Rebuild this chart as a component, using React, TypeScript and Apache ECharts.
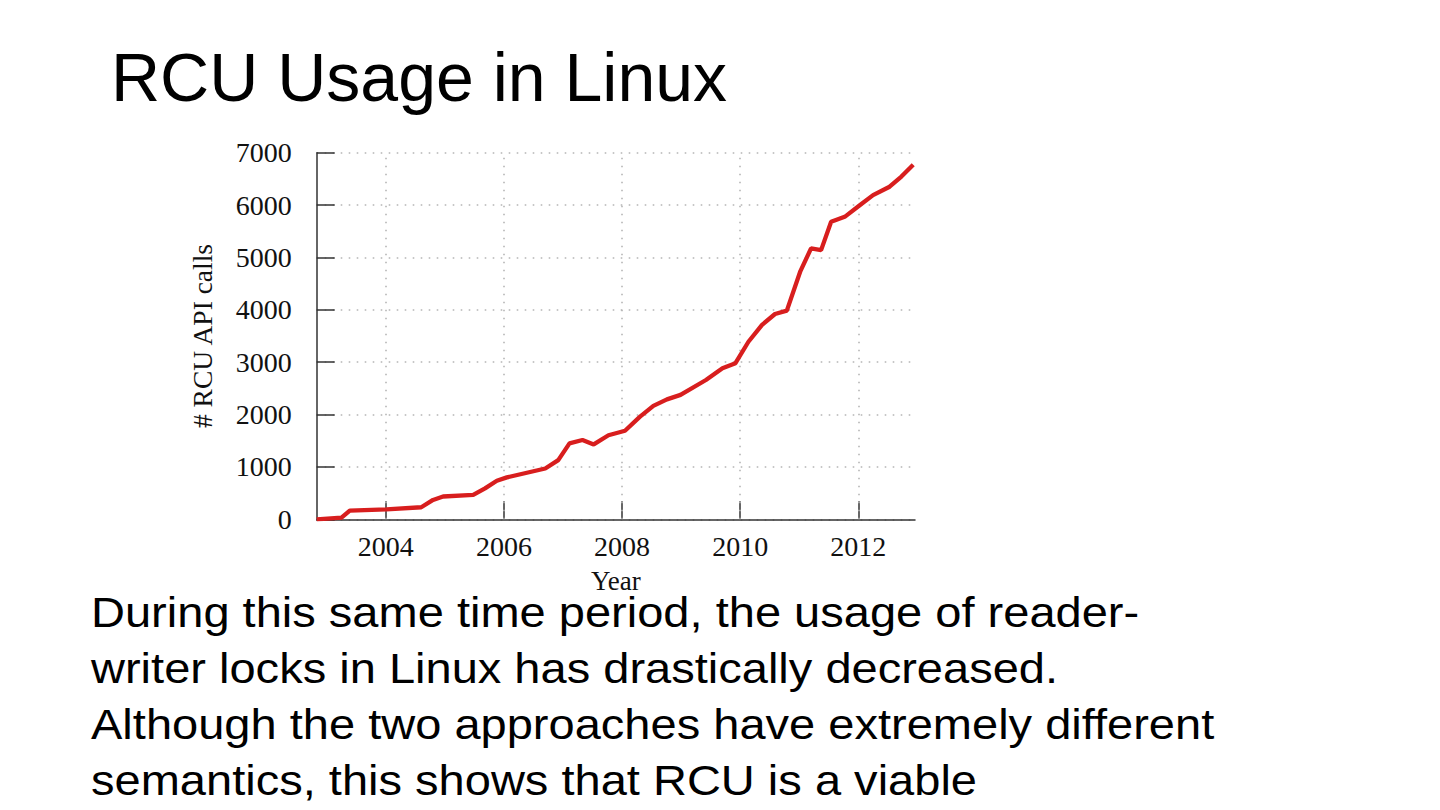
import React, { useEffect, useRef } from "react";
import * as echarts from "echarts";

const TITLE = "RCU Usage in Linux";
const BODY_LINES = [
  "During this same time period, the usage of reader-",
  "writer locks in Linux has drastically decreased.",
  "Although the two approaches have extremely different",
  "semantics, this shows that RCU is a viable",
];

const YEARS = [
  2002.83, 2003.25, 2003.39, 2004.01, 2004.6, 2004.8, 2004.97, 2005.48, 2005.68, 2005.88,
  2006.05, 2006.7, 2006.92, 2007.11, 2007.33, 2007.52, 2007.77, 2008.05, 2008.3, 2008.53,
  2008.76, 2008.99, 2009.42, 2009.7, 2009.92, 2010.14, 2010.37, 2010.59, 2010.79, 2011.02,
  2011.2, 2011.37, 2011.54, 2011.77, 2012.03, 2012.25, 2012.53, 2012.73, 2012.93,
];
const CALLS = [
  0, 30, 165, 190, 230, 370, 435, 465, 590, 735,
  800, 970, 1130, 1450, 1515, 1430, 1605, 1690, 1955, 2165,
  2290, 2375, 2660, 2885, 2980, 3390, 3712, 3920, 3985, 4740,
  5172, 5140, 5680, 5775, 6000, 6190, 6350, 6545, 6770,
];

const X_MIN = 2002.83;
const X_MAX = 2012.96;
const X_TICKS = [2004, 2006, 2008, 2010, 2012];
const Y_MIN = 0;
const Y_MAX = 7000;
const Y_STEP = 1000;

export default function App() {
  const ref = useRef<HTMLDivElement>(null);
  useEffect(() => {
    if (!ref.current) return;
    const chart = echarts.init(ref.current, null, { renderer: "svg" });
    const serif = "'Liberation Serif', 'Times New Roman', serif";
    const sans = "'Liberation Sans', Arial, sans-serif";
    const axisColor = "#333333";
    const gridColor = "#b5b5b5";
    const gridLine = { type: [1.6, 6.4], color: gridColor, width: 1.6 };
    chart.setOption({
      animation: false,
      backgroundColor: "#ffffff",
      grid: { left: 316.7, top: 152.7, width: 598.3, height: 366.6, containLabel: false },
      xAxis: {
        type: "value",
        min: X_MIN,
        max: X_MAX,
        axisLine: { show: true, lineStyle: { color: axisColor, width: 1.5 } },
        axisTick: {
          show: true,
          inside: true,
          length: 18,
          customValues: X_TICKS,
          lineStyle: { color: axisColor, width: 1.5 },
        },
        axisLabel: {
          customValues: X_TICKS,
          formatter: (v: number) => String(Math.round(v)),
          fontFamily: serif,
          fontSize: 28,
          color: "#111",
          margin: 13,
        },
        splitLine: { show: false },
        name: "Year",
        nameLocation: "middle",
        nameGap: 48,
        nameTextStyle: { fontFamily: serif, fontSize: 27, color: "#111" },
      },
      yAxis: {
        type: "value",
        min: Y_MIN,
        max: Y_MAX,
        interval: Y_STEP,
        axisLine: { show: true, lineStyle: { color: axisColor, width: 1.5 } },
        axisTick: { show: true, inside: true, length: 18, lineStyle: { color: axisColor, width: 1.5 } },
        axisLabel: {
          fontFamily: serif,
          fontSize: 28,
          color: "#111",
          margin: 25,
          formatter: (v: number) => String(v),
        },
        splitLine: { show: true, lineStyle: gridLine },
        name: "# RCU API calls",
        nameLocation: "middle",
        nameGap: 100,
        nameTextStyle: { fontFamily: serif, fontSize: 27.5, color: "#111" },
      },
      series: [
        {
          type: "line",
          data: [],
          z: 1,
          silent: true,
          markLine: {
            silent: true,
            symbol: "none",
            label: { show: false },
            lineStyle: gridLine,
            data: X_TICKS.map((v) => ({ xAxis: v })),
          },
        },
        {
          type: "line",
          z: 5,
          data: YEARS.map((y, i) => [y, CALLS[i]]),
          showSymbol: false,
          symbol: "none",
          lineStyle: { color: "#d81e1e", width: 4.3 },
          itemStyle: { color: "#d81e1e" },
        },
      ],
      graphic: [
        {
          type: "text",
          x: 111,
          y: 77,
          style: {
            text: TITLE,
            font: `68px ${sans}`,
            fill: "#000",
            verticalAlign: "middle",
          },
        },
        ...BODY_LINES.map((line, i) => ({
          type: "text",
          x: 91,
          y: 612 + i * 56,
          scaleX: 1.12,
          style: {
            text: line,
            font: `42px ${sans}`,
            fill: "#000",
            verticalAlign: "middle",
          },
        })),
      ],
    });
    return () => chart.dispose();
  }, []);
  return (
    <div
      ref={ref}
      style={{ position: "fixed", left: 0, top: 0, width: 1440, height: 810, background: "#fff" }}
    />
  );
}
